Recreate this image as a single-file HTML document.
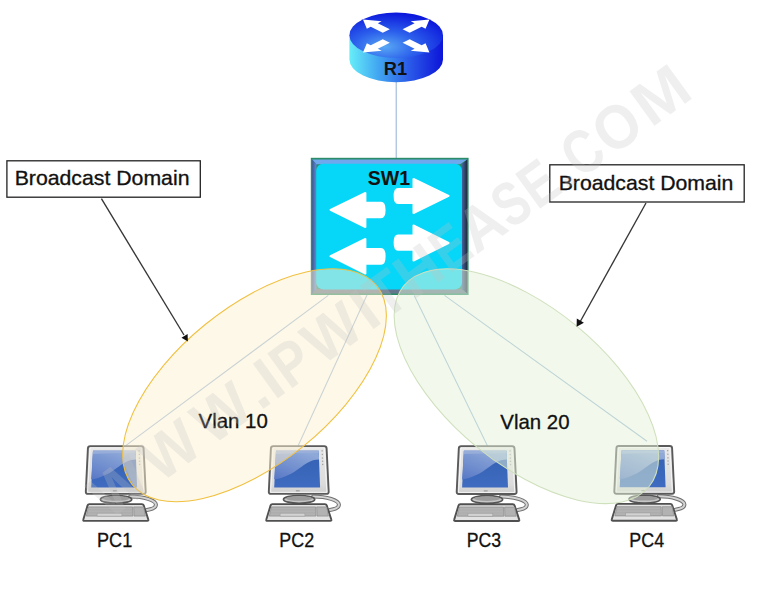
<!DOCTYPE html>
<html><head><meta charset="utf-8">
<style>
html,body{margin:0;padding:0;background:#fff;}
body{width:768px;height:594px;overflow:hidden;font-family:"Liberation Sans",sans-serif;}
svg{display:block;}
</style></head>
<body>
<svg width="768" height="594" viewBox="0 0 768 594" font-family="Liberation Sans">

<defs>
  <linearGradient id="bezel" x1="0" y1="0" x2="0" y2="1">
    <stop offset="0" stop-color="#e8e8e8"/><stop offset="0.8" stop-color="#dcdcdc"/><stop offset="1" stop-color="#cdcdcd"/>
  </linearGradient>
  <linearGradient id="scrhi" x1="0" y1="1" x2="0.6" y2="0">
    <stop offset="0" stop-color="#5878c6"/><stop offset="1" stop-color="#8ea8d8"/>
  </linearGradient>
  <linearGradient id="scrdark" x1="0" y1="0" x2="0" y2="1">
    <stop offset="0" stop-color="#3560b4"/><stop offset="1" stop-color="#3f6cc0"/>
  </linearGradient>
  <linearGradient id="bvl" x1="0" y1="0" x2="1" y2="0">
    <stop offset="0" stop-color="#44569a"/><stop offset="1" stop-color="#5e8ad8"/>
  </linearGradient>
  <linearGradient id="bvr" x1="0" y1="0" x2="1" y2="0">
    <stop offset="0" stop-color="#4a6aa8"/><stop offset="1" stop-color="#1c2a3c"/>
  </linearGradient>
  <radialGradient id="rtop" cx="0.38" cy="0.75" r="0.75">
    <stop offset="0" stop-color="#58a8f4"/>
    <stop offset="0.45" stop-color="#2c60ec"/>
    <stop offset="1" stop-color="#0c18dc"/>
  </radialGradient>
  <linearGradient id="rside" x1="0" y1="0" x2="1" y2="0">
    <stop offset="0" stop-color="#66eef8"/>
    <stop offset="0.3" stop-color="#42a8f2"/>
    <stop offset="0.65" stop-color="#2a58e8"/>
    <stop offset="1" stop-color="#0c14d8"/>
  </linearGradient>

<symbol id="pc" overflow="visible">
  <path d="M44 50.6 C58 50.6 69.5 54.5 69.8 58.6 C70 61.8 65 63.4 60.8 64" fill="none" stroke="#707070" stroke-width="4" stroke-linecap="round"/>
  <path d="M44 50.6 C58 50.6 69.5 54.5 69.8 58.6 C70 61.8 65 63.4 60.8 64" fill="none" stroke="#d4d4d4" stroke-width="2" stroke-linecap="round"/>
  <ellipse cx="30" cy="53.5" rx="15.6" ry="3.9" fill="#c6c6c6" stroke="#555" stroke-width="1.7"/>
  <ellipse cx="30" cy="52.6" rx="13" ry="2.3" fill="#9c9c9c"/>
  <path d="M4.1 0.3 H55.2 Q57.4 0.3 57.5 2.5 L59.6 45.8 Q59.7 48 57.5 48 H1.8 Q-0.4 48 -0.3 45.8 L1.8 2.5 Q1.9 0.3 4.1 0.3 Z" fill="url(#bezel)" stroke="#5a5a5a" stroke-width="1.9"/>
  <path d="M4 1.8 H55.3 L57.8 46.4 H1.5 Z" fill="none" stroke="#f8f8f8" stroke-width="0.9"/>
  <path d="M6.9 4.8 H49.6 L51 41.6 H5.1 Z" fill="url(#scrdark)"/>
  <path d="M6.9 4.8 H49.6 L49.95 13.5 C46 13.6 42 14.5 38 17 C30 22 25 27 17 30 C13 31.6 9 33 5.1 33.4 Z" fill="url(#scrhi)"/>
  <path d="M6.9 4.8 H49.6 L49.7 7.2 C36 7.4 20 7.6 6.8 8 Z" fill="#9fb4dc" opacity="0.7"/>
  <g fill="#a4a4a4"><rect x="52.4" y="4.3" width="1.3" height="1.3"/><rect x="52.6" y="7.9" width="1.3" height="1.3"/><rect x="52.7" y="11.5" width="1.3" height="1.3"/><rect x="52.8" y="14.7" width="1.3" height="1.3"/><rect x="52.9" y="17.9" width="1.3" height="1.3"/></g>
  <rect x="26.8" y="44.3" width="3.8" height="1.2" fill="#9c9c9c"/>
  <path d="M3.3 58.2 H55.8 Q57.2 58.2 57.6 59.5 L62.2 73.6 Q62.7 75 61.2 75 H-1.6 Q-3.3 75 -2.8 73.6 L1.5 59.5 Q1.9 58.2 3.3 58.2 Z" fill="#e2e2e2" stroke="#505050" stroke-width="1.9"/>
  <path d="M2.4 61 H46.5 L46.8 70.2 H0.2 Z" fill="#b2b2b2" stroke="#8a8a8a" stroke-width="0.7"/>
  <path d="M47.6 61 H57.6 L59.3 70.2 H47.9 Z" fill="#b2b2b2" stroke="#8a8a8a" stroke-width="0.7"/>
  <path d="M1 64 H46.6 M0.6 67 H46.7" stroke="#a4a4a4" stroke-width="0.5"/>
  <rect x="11" y="67.3" width="24.8" height="2.9" fill="#d2d2d2" stroke="#9a9a9a" stroke-width="0.5"/>
</symbol>

</defs>

<g stroke="#98b4d4" stroke-width="1.05" fill="none">
  <line x1="396.2" y1="80" x2="396.2" y2="158"/>
  <line x1="328.3" y1="295.4" x2="125.4" y2="445.9"/>
  <line x1="367" y1="295" x2="298" y2="446"/>
  <line x1="414.2" y1="295.4" x2="489" y2="449"/>
  <line x1="444.5" y1="295.4" x2="647" y2="441.2"/>
</g>

<g>
  <path d="M349.4 35.5 V59.5 A46.8 22.7 0 0 0 443 59.5 V35.5 Z" fill="url(#rside)"/>
  <ellipse cx="396.2" cy="35.3" rx="46.8" ry="22.7" fill="url(#rtop)"/>
  <g fill="#fff" transform="translate(396.2 36) scale(1 0.5)"><path transform="rotate(45)" d="M14 -5 H31 V-10.5 L47 0 L31 10.5 V5 H14 Z"/><path transform="rotate(135)" d="M14 -5 H31 V-10.5 L47 0 L31 10.5 V5 H14 Z"/><path transform="rotate(225)" d="M14 -5 H31 V-10.5 L47 0 L31 10.5 V5 H14 Z"/><path transform="rotate(315)" d="M14 -5 H31 V-10.5 L47 0 L31 10.5 V5 H14 Z"/></g>
  <text x="383.78" y="74.70" font-size="18.90" font-weight="bold" fill="#111" textLength="23.33" lengthAdjust="spacingAndGlyphs">R1</text>
</g>

<g>
  <rect x="310.8" y="157.8" width="157.8" height="137.2" fill="#2a8c68"/>
  <path d="M312.2 159.4 H467.2 L460 164.2 H316.4 Z" fill="#70a8ee"/>
  <path d="M312.2 159.4 L316.4 164.2 V289 L312.2 293.6 Z" fill="url(#bvl)"/>
  <path d="M467.2 159.4 V293.6 L461.5 289 V164.2 Z" fill="url(#bvr)"/>
  <path d="M312.2 293.6 L316.4 289 H461.5 L467.2 293.6 Z" fill="#64768e"/>
  <rect x="316.2" y="163.8" width="145.8" height="125.6" rx="7" fill="#06d6f8"/>
  <g fill="#fff" stroke="#fff" stroke-width="2" stroke-linejoin="round">
    <path d="M330.5 209.8 L365.4 193 V202.8 H381 Q384.6 202.8 384.6 210 Q384.6 217.2 381 217.2 H365.4 V227 Z"/>
    <path d="M330.5 256.2 L365.4 239 V249 H381 Q384.6 249 384.6 256.4 Q384.6 263.8 381 263.8 H365.4 V273.6 Z"/>
    <path d="M448.6 195.8 L413.5 179 V189 H398 Q394.6 189 394.6 196 Q394.6 203 398 203 H413.5 V213 Z"/>
    <path d="M448.6 243 L413.5 225.5 V235.4 H398 Q394.6 235.4 394.6 242.6 Q394.6 249.8 398 249.8 H413.5 V260.5 Z"/>
  </g>
  <text x="367.74" y="185.00" font-size="20.06" font-weight="bold" fill="#111" textLength="42.31" lengthAdjust="spacingAndGlyphs">SW1</text>
</g>

<use href="#pc" x="86.1" y="445.9"/><use href="#pc" x="269.1" y="445.9"/><use href="#pc" x="457.0" y="446.0"/><use href="#pc" x="614.6" y="445.7"/>

<ellipse cx="254.5" cy="385.2" rx="157.6" ry="78.2" transform="rotate(-39.1 254.5 385.2)" fill="rgba(253,242,212,0.5)" stroke="#f0c040" stroke-width="1.05"/>
<ellipse cx="526.4" cy="386.2" rx="158.5" ry="78.4" transform="rotate(39.37 526.4 386.2)" fill="rgba(230,244,218,0.5)" stroke="#cfe0bd" stroke-width="1.05"/>

<rect x="6.9" y="160.8" width="193.4" height="36.4" fill="#fff" stroke="#222" stroke-width="1.3"/>
<text x="14.66" y="184.80" font-size="19.48" fill="#111" textLength="174.82" lengthAdjust="spacingAndGlyphs" stroke="#111" stroke-width="0.3">Broadcast Domain</text>
<rect x="549.8" y="164.8" width="194.4" height="37.2" fill="#fff" stroke="#222" stroke-width="1.3"/>
<text x="558.66" y="189.80" font-size="19.48" fill="#111" textLength="174.72" lengthAdjust="spacingAndGlyphs" stroke="#111" stroke-width="0.3">Broadcast Domain</text>

<g stroke="#363636" stroke-width="1.35">
  <line x1="101.4" y1="198.7" x2="184" y2="335"/>
  <line x1="646" y1="203" x2="580" y2="322"/>
</g>
<g fill="#111">
  <path d="M187.9 341.6 L181.5 337.8 L187.6 334 Z"/>
  <path d="M576.6 326.8 L576.8 318.5 L583.9 322.8 Z"/>
</g>

<text x="198.51" y="427.90" font-size="20.20" fill="#111" textLength="69.29" lengthAdjust="spacingAndGlyphs" stroke="#111" stroke-width="0.3">Vlan 10</text>
<text x="500.31" y="428.80" font-size="20.20" fill="#111" textLength="69.19" lengthAdjust="spacingAndGlyphs" stroke="#111" stroke-width="0.3">Vlan 20</text>
<text x="97.02" y="546.80" font-size="20.06" fill="#111" textLength="35.17" lengthAdjust="spacingAndGlyphs" stroke="#111" stroke-width="0.3">PC1</text>
<text x="279.33" y="546.80" font-size="20.06" fill="#111" textLength="34.76" lengthAdjust="spacingAndGlyphs" stroke="#111" stroke-width="0.3">PC2</text>
<text x="466.75" y="546.80" font-size="20.06" fill="#111" textLength="34.32" lengthAdjust="spacingAndGlyphs" stroke="#111" stroke-width="0.3">PC3</text>
<text x="629.33" y="546.80" font-size="20.06" fill="#111" textLength="34.79" lengthAdjust="spacingAndGlyphs" stroke="#111" stroke-width="0.3">PC4</text>

<g transform="translate(266.9 406.3) rotate(-35.9)" text-anchor="middle" font-weight="bold" font-size="62" fill="rgba(195,195,195,0.26)"><text transform="translate(-167.6 0) scale(0.95 1)">W</text><text transform="translate(-104.2 0) scale(0.95 1)">W</text><text transform="translate(-40.7 0) scale(0.95 1)">W</text><text transform="translate(0.0 0) scale(1 1)">.</text><text transform="translate(18.0 0) scale(1 1)">I</text><text transform="translate(45.4 0) scale(0.85 1)">P</text><text transform="translate(95.5 0) scale(0.95 1)">W</text><text transform="translate(136.2 0) scale(1 1)">I</text><text transform="translate(162.6 0) scale(0.9 1)">T</text><text transform="translate(202.1 0) scale(0.95 1)">H</text><text transform="translate(241.7 0) scale(0.8 1)">E</text><text transform="translate(279.8 0) scale(0.95 1)">A</text><text transform="translate(316.8 0) scale(0.75 1)">S</text><text transform="translate(350.5 0) scale(0.8 1)">E</text><text transform="translate(376.9 0) scale(1 1)">.</text><text transform="translate(404.9 0) scale(0.8 1)">C</text><text transform="translate(447.5 0) scale(0.92 1)">O</text><text transform="translate(501.5 0) scale(1.06 1)">M</text></g>
</svg>
</body></html>
